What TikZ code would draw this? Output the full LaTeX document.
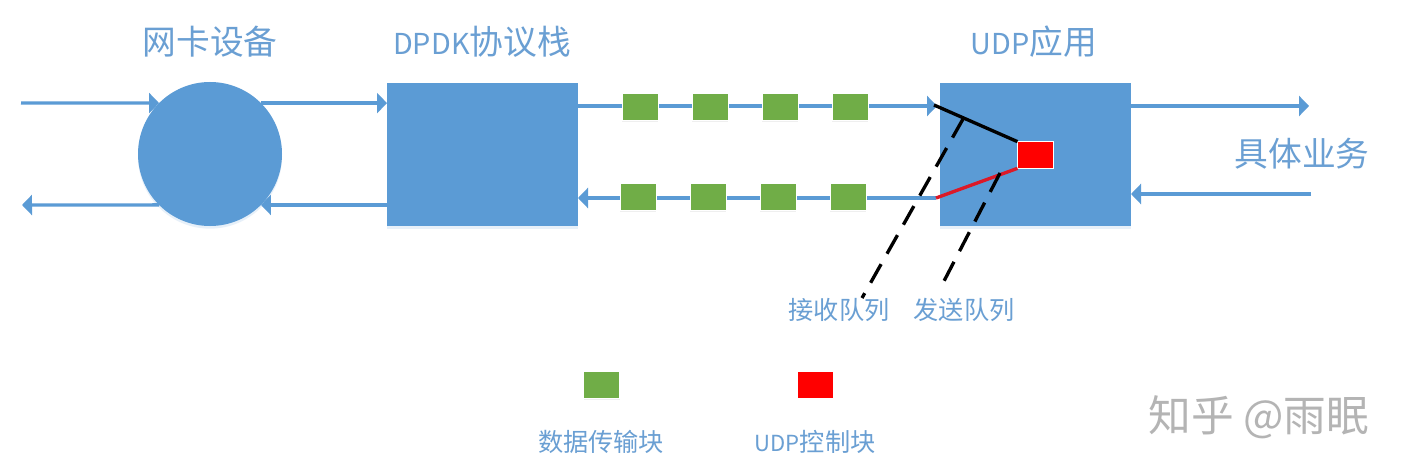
\documentclass[tikz,border=0pt]{standalone}
\usepackage{fontspec}
\setmainfont{Noto Sans CJK SC}
\usetikzlibrary{arrows.meta,shadows}
\definecolor{blockblue}{HTML}{5B9BD5}
\definecolor{labelblue}{HTML}{6A9FD3}
\definecolor{greenblock}{HTML}{70AD47}
\definecolor{markgray}{HTML}{B4B4B4}
\newcommand{\lat}[2]{{\fontsize{#1}{#1}\selectfont #2}}
\tikzset{
  softshadow/.style={drop shadow={opacity=.14,shadow xshift=0pt,shadow yshift=-2pt,fill=blockblue}},
  bigbox/.style={rectangle,fill=blockblue,draw=none,inner sep=0pt,outer sep=0pt,minimum width=143.25pt,minimum height=107.25pt,softshadow},
  netdev/.style={circle,fill=blockblue,draw=none,inner sep=0pt,outer sep=0pt,minimum size=108pt,softshadow},
  greenbox/.style={rectangle,fill=greenblock,draw=white,line width=.4pt,inner sep=0pt,outer sep=0pt,minimum width=27pt,minimum height=20pt,drop shadow={opacity=.12,shadow xshift=0pt,shadow yshift=-1.5pt}},
  redbox/.style={rectangle,fill=red,draw=white,line width=.4pt,inner sep=0pt,outer sep=0pt,minimum width=27pt,minimum height=20pt},
  flow/.style={draw=blockblue,line width=2.5pt,-{Triangle[length=7.5pt,width=15pt]}},
  title/.style={text=labelblue,font=\fontsize{25.3pt}{30pt}\selectfont,inner sep=0pt},
  smalllabel/.style={text=labelblue,font=\fontsize{18.9pt}{22pt}\selectfont,inner sep=0pt},
  leader/.style={draw=black,line width=2.5pt,dash pattern=on 16pt off 9pt},
  watermark/.style={text=markgray,font=\fontsize{32pt}{38pt}\selectfont,inner sep=0pt}
}
\begin{document}
\begin{tikzpicture}[x=0.75pt,y=-0.75pt]
\useasboundingbox (0,0) rectangle (1405,474);
\fill[white] (0,0) rectangle (1405,474);

% free ends
\coordinate (inA) at (21,103);
\coordinate (outA) at (22,205);
\coordinate (bizOut) at (1309,106);
\coordinate (bizIn) at (1311,194);
\coordinate (rxEnd) at (862,298);
\coordinate (txEnd) at (943,283);
\coordinate (rxStart) at (963,119);
\coordinate (txStart) at (1000,173);
\coordinate (topTip) at (937,106);
\coordinate (botStart) at (936,198);
\coordinate (blackStart) at (934,105);

% main blocks
\node[netdev] (nic) at (210,154) {};
\node[bigbox] (dpdk) at (482.5,154.5) {};
\node[bigbox] (udp) at (1035.5,154.5) {};

% flows
\draw[flow] (inA) -- (nic.135);
\draw[flow] (nic.45) -- (nic.45 -| dpdk.west);
\draw[flow] (dpdk.west |- nic.315) -- (nic.315);
\draw[flow] (nic.225) -- (outA);
\draw[flow] (dpdk.east |- topTip) -- (topTip);
\draw[flow] (botStart) -- (dpdk.east |- botStart);
\draw[flow] (udp.east |- bizOut) -- (bizOut);
\draw[flow] (bizIn) -- (udp.east |- bizIn);

% green transfer blocks on queues
\node[greenbox] (u1) at (640,107) {};
\node[greenbox] (u2) at (710,107) {};
\node[greenbox] (u3) at (780,107) {};
\node[greenbox] (u4) at (850,107) {};
\node[greenbox] (d1) at (638,197) {};
\node[greenbox] (d2) at (708,197) {};
\node[greenbox] (d3) at (778,197) {};
\node[greenbox] (d4) at (848,197) {};

% control block and queues
\node[redbox] (ctl) at (1035.5,155) {};
\draw[black,line width=2.5pt] (blackStart) -- (ctl.north west);
\draw[color={rgb,255:red,220;green,25;blue,40},line width=2.5pt] (botStart) -- (ctl.south west);
\draw[leader] (rxStart) -- (rxEnd);
\draw[leader] (txStart) -- (txEnd);

% titles
\node[title] (tNic) at (210,42) {网卡设备};
\node[title] (tDpdk) at (482,42) {\lat{21.6pt}{DPDK}协议栈};
\node[title] (tUdp) at (1034,42) {\lat{21.6pt}{UDP}应用};
\node[title] (tBiz) at (1302,154) {具体业务};
\node[smalllabel] (lRx) at (839,310) {接收队列};
\node[smalllabel] (lTx) at (964,310) {发送队列};

% legend
\node[greenbox] (lg) at (601.5,385) {};
\node[redbox] (lr) at (815.5,385) {};
\node[smalllabel] (lgt) at (601,442) {数据传输块};
\node[smalllabel] (lrt) at (815,442) {\lat{16.6pt}{UDP}控制块};

% watermark
\node[watermark] (wm) at (1259,417) {知乎 @雨眠};
\end{tikzpicture}
\end{document}
